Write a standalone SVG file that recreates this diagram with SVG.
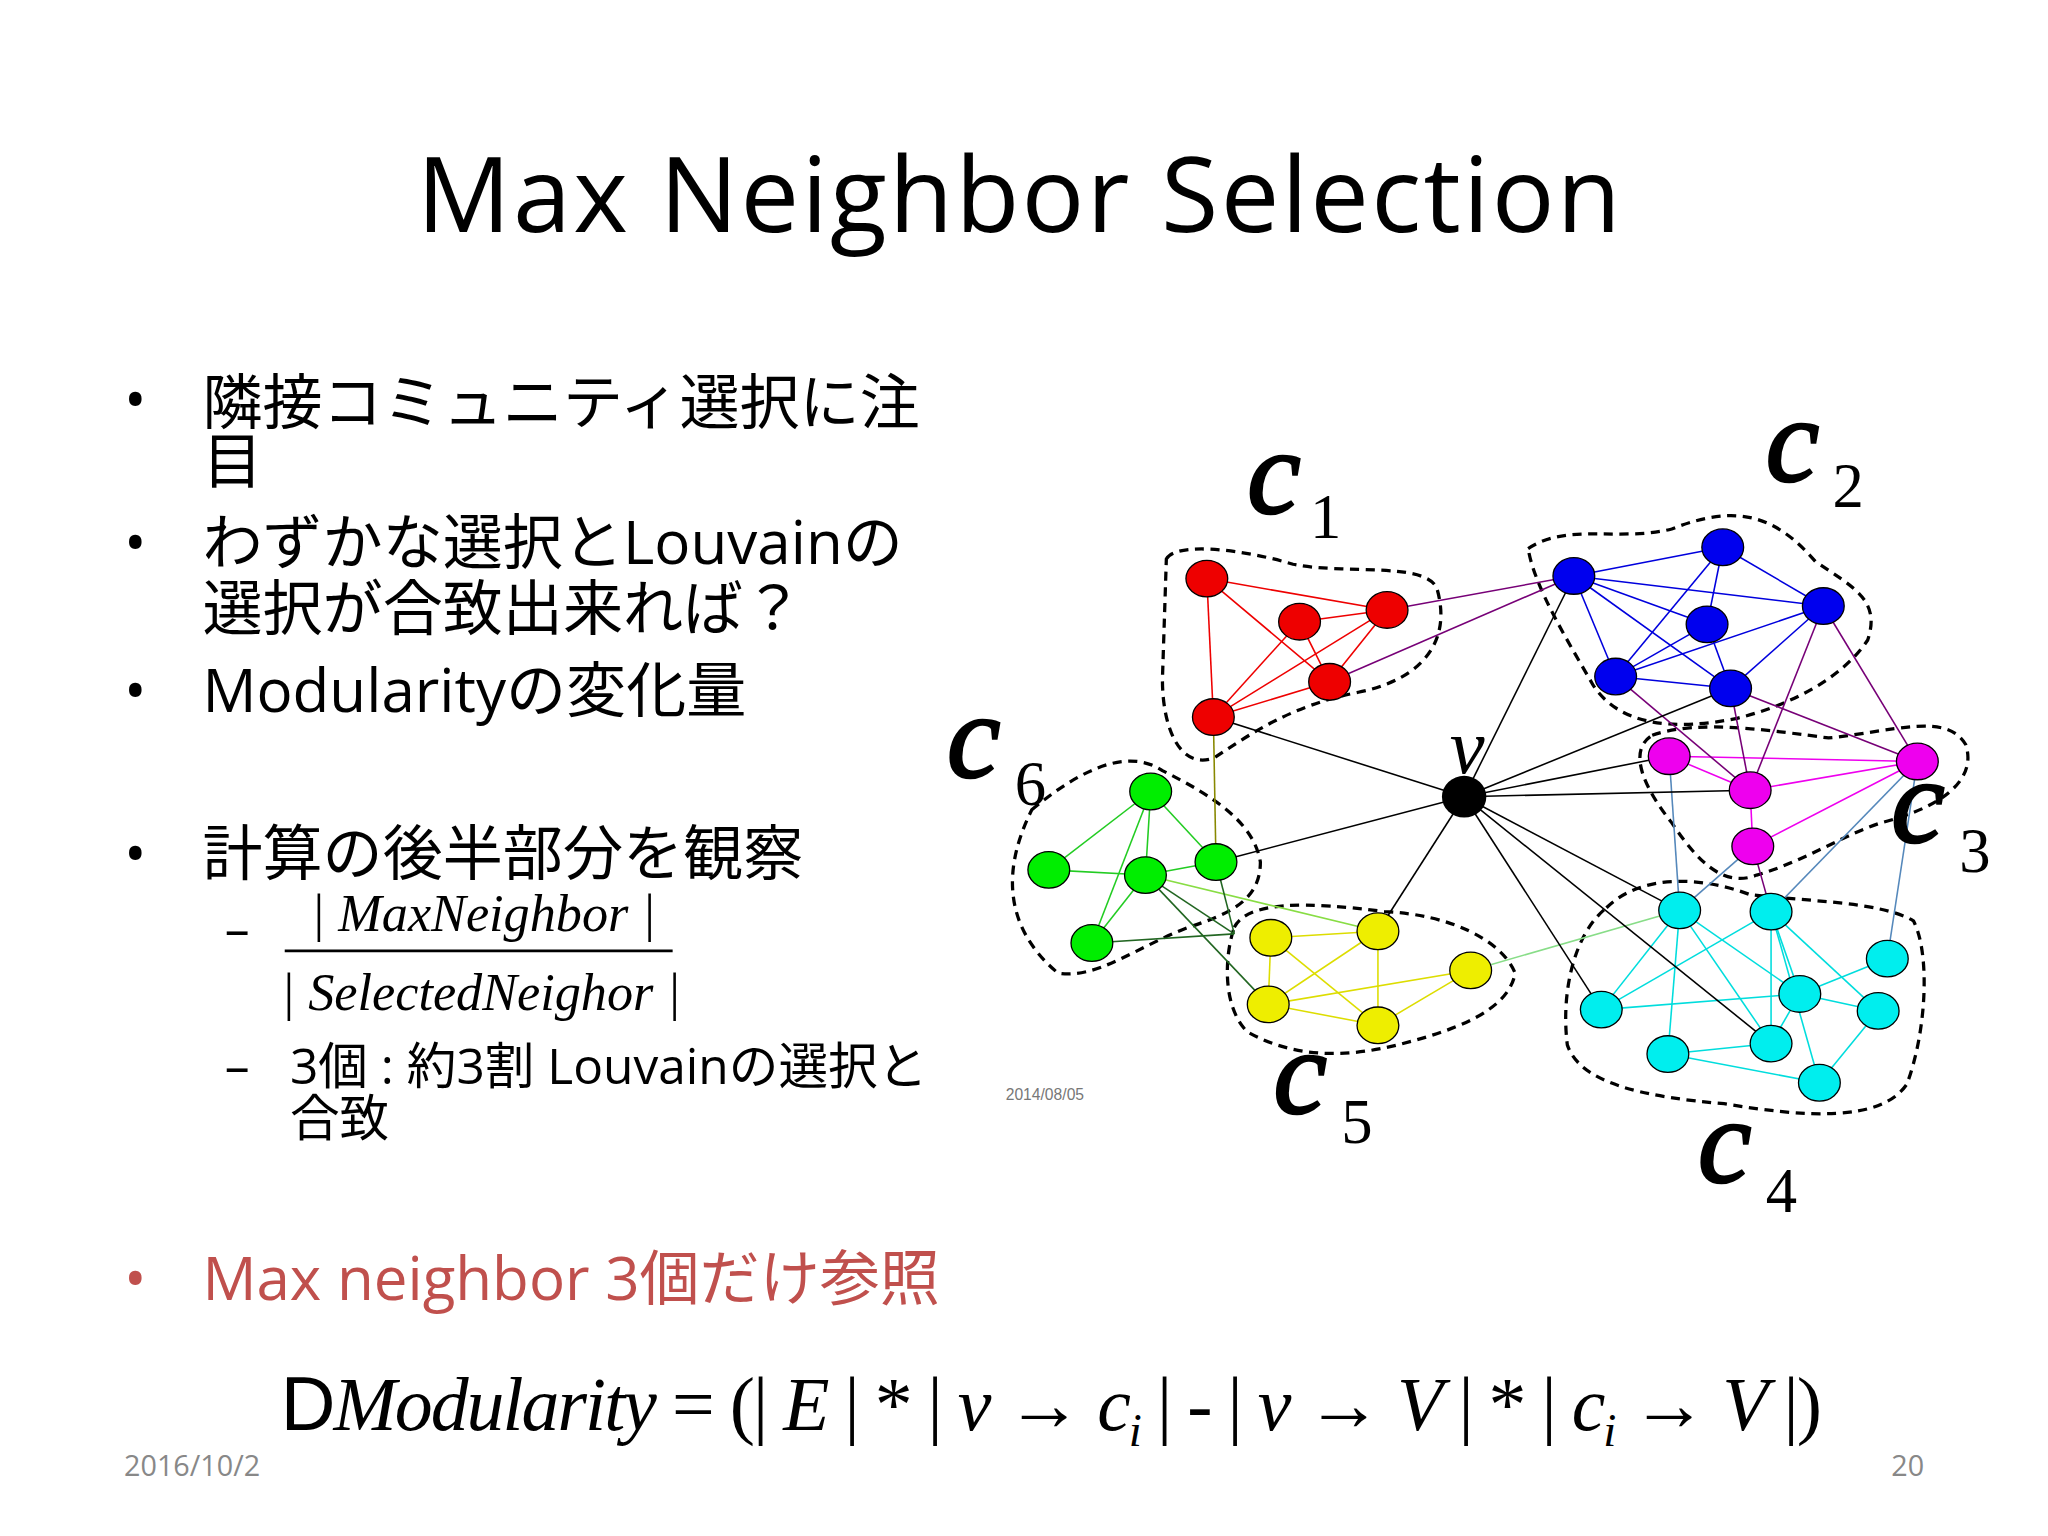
<svg xmlns="http://www.w3.org/2000/svg" width="2048" height="1536" viewBox="0 0 2048 1536">
<style>
.t{font-family:"Open Sans","Noto Sans CJK JP",sans-serif;fill:#000}
.m{font-family:"Liberation Serif","DejaVu Serif",serif;font-style:italic}
.n{stroke:#000;stroke-width:1}
.h{fill:none;stroke:#000;stroke-width:2.5;stroke-dasharray:7 5}
.lab{font-family:"Liberation Serif",serif;font-style:italic;font-size:92px;stroke:#000;stroke-width:2}
.sub{font-family:"Liberation Serif",serif;font-size:48px}
</style>
<rect width="2048" height="1536" fill="#fff"/>
<g transform="scale(1.3061)">
<text class="t" x="780" y="178" font-size="80" text-anchor="middle" textLength="922">Max Neighbor Selection</text>
<g id="bullets" class="t" font-size="46">
<text x="95" y="322">•</text>
<text x="155" y="325">隣接コミュニティ選択に注</text>
<text x="155" y="370">目</text>
<text x="95" y="432">•</text>
<text x="155" y="432">わずかな選択とLouvainの</text>
<text x="155" y="482">選択が合致出来れば？</text>
<text x="95" y="545">•</text>
<text x="155" y="545">Modularityの変化量</text>
<text x="95" y="670">•</text>
<text x="155" y="670">計算の後半部分を観察</text>
<text x="172" y="725" font-size="38">–</text>
<text x="172" y="830" font-size="38">–</text>
<text x="222" y="830" font-size="38">3個 : 約3割   Louvainの選択と</text>
<text x="222" y="870" font-size="38">合致</text>
</g>
<text class="m" x="238" y="713" font-size="40">| MaxNeighbor |</text>
<line x1="218" y1="728" x2="515" y2="728" stroke="#000" stroke-width="2"/>
<text class="m" x="215" y="773" font-size="40">| SelectedNeighor |</text>
<text x="770" y="842" font-family="Liberation Sans,sans-serif" font-size="12" fill="#777">2014/08/05</text>
<text x="95" y="995" font-size="46" fill="#c0504d" font-family="Open Sans,Noto Sans CJK JP,sans-serif">•</text>
<text x="155" y="995" font-size="46" fill="#c0504d" font-family="Open Sans,Noto Sans CJK JP,sans-serif">Max neighbor 3個だけ参照</text>
<text x="215" y="1095" font-size="58" font-family="Liberation Serif,serif" textLength="1180"><tspan font-family="Liberation Sans,sans-serif">D</tspan><tspan font-style="italic">Modularity</tspan> = (| <tspan font-style="italic">E</tspan> | * | <tspan font-style="italic">v</tspan> → <tspan font-style="italic">c</tspan><tspan font-style="italic" font-size="36" dy="12">i</tspan><tspan dy="-12"> | - | </tspan><tspan font-style="italic">v</tspan> → <tspan font-style="italic">V</tspan> | * | <tspan font-style="italic">c</tspan><tspan font-style="italic" font-size="36" dy="12">i</tspan><tspan dy="-12"> → </tspan><tspan font-style="italic">V</tspan> |)</text>
<text x="95" y="1130" font-size="22" fill="#888" font-family="Open Sans,sans-serif">2016/10/2</text>
<text x="1448" y="1130" font-size="22" fill="#888" font-family="Open Sans,sans-serif">20</text>

<g id="hulls">
<path class="h" d="M893,428 C900,415 950,420 990,432 C1030,440 1090,430 1100,450 C1112,490 1090,520 1040,530 C990,540 960,560 930,580 C905,590 890,560 890,520 Z"/>
<path class="h" d="M1170,420 C1200,400 1240,415 1280,405 C1330,385 1360,395 1390,430 C1420,450 1440,460 1430,490 C1410,520 1370,540 1330,550 C1280,560 1240,555 1220,525 C1200,490 1175,450 1170,420 Z"/>
<path class="h" d="M1265,563 C1300,550 1360,560 1400,565 C1450,560 1490,545 1505,570 C1515,600 1480,620 1440,630 C1410,640 1380,660 1345,670 C1320,680 1300,660 1280,630 C1260,605 1245,575 1265,563 Z"/>
<path class="h" d="M1230,695 C1255,670 1300,670 1340,685 C1380,690 1440,690 1465,705 C1478,730 1475,790 1460,830 C1440,860 1380,855 1320,845 C1260,840 1210,830 1200,800 C1195,760 1205,715 1230,695 Z"/>
<path class="h" d="M945,710 C955,690 1000,690 1060,698 C1110,700 1150,720 1160,745 C1155,775 1110,790 1070,800 C1030,810 990,810 955,790 C935,770 938,730 945,710 Z"/>
<path class="h" d="M790,620 C820,595 860,570 890,590 C930,610 960,630 965,660 C965,690 940,700 910,710 C870,725 840,750 810,745 C780,720 760,680 790,620 Z"/>
</g>

<g id="connectors" fill="none" stroke-width="1.2">
<g stroke="#e00">
<line x1="924" y1="443" x2="1062" y2="467"/><line x1="924" y1="443" x2="1018" y2="522"/><line x1="924" y1="443" x2="929" y2="549"/>
<line x1="995" y1="476" x2="1062" y2="467"/><line x1="995" y1="476" x2="1018" y2="522"/><line x1="995" y1="476" x2="929" y2="549"/>
<line x1="1062" y1="467" x2="1018" y2="522"/><line x1="1062" y1="467" x2="929" y2="549"/><line x1="1018" y1="522" x2="929" y2="549"/>
</g>
<g stroke="#00d">
<line x1="1205" y1="441" x2="1319" y2="419"/><line x1="1205" y1="441" x2="1307" y2="478"/><line x1="1205" y1="441" x2="1396" y2="464"/><line x1="1205" y1="441" x2="1237" y2="518"/><line x1="1205" y1="441" x2="1325" y2="527"/>
<line x1="1319" y1="419" x2="1307" y2="478"/><line x1="1319" y1="419" x2="1237" y2="518"/><line x1="1319" y1="419" x2="1396" y2="464"/>
<line x1="1307" y1="478" x2="1237" y2="518"/><line x1="1307" y1="478" x2="1325" y2="527"/><line x1="1396" y1="464" x2="1237" y2="518"/><line x1="1396" y1="464" x2="1325" y2="527"/><line x1="1237" y1="518" x2="1325" y2="527"/>
</g>
<g stroke="#e0e">
<line x1="1278" y1="579" x2="1340" y2="605"/><line x1="1278" y1="579" x2="1468" y2="583"/><line x1="1340" y1="605" x2="1342" y2="648"/><line x1="1340" y1="605" x2="1468" y2="583"/><line x1="1342" y1="648" x2="1468" y2="583"/>
</g>
<g stroke="#0dd">
<line x1="1286" y1="697" x2="1226" y2="773"/><line x1="1286" y1="697" x2="1356" y2="799"/><line x1="1286" y1="697" x2="1378" y2="761"/><line x1="1286" y1="697" x2="1277" y2="807"/>
<line x1="1356" y1="698" x2="1226" y2="773"/><line x1="1356" y1="698" x2="1378" y2="761"/><line x1="1356" y1="698" x2="1356" y2="799"/><line x1="1356" y1="698" x2="1438" y2="774"/><line x1="1356" y1="698" x2="1393" y2="829"/>
<line x1="1445" y1="734" x2="1378" y2="761"/><line x1="1226" y1="773" x2="1378" y2="761"/><line x1="1378" y1="761" x2="1438" y2="774"/><line x1="1378" y1="761" x2="1356" y2="799"/>
<line x1="1438" y1="774" x2="1393" y2="829"/><line x1="1356" y1="799" x2="1277" y2="807"/><line x1="1277" y1="807" x2="1393" y2="829"/>
</g>
<g stroke="#dd0">
<line x1="973" y1="718" x2="1055" y2="713"/><line x1="973" y1="718" x2="971" y2="769"/><line x1="973" y1="718" x2="1055" y2="785"/><line x1="1055" y1="713" x2="971" y2="769"/><line x1="1055" y1="713" x2="1055" y2="785"/>
<line x1="971" y1="769" x2="1126" y2="743"/><line x1="971" y1="769" x2="1055" y2="785"/><line x1="1055" y1="785" x2="1126" y2="743"/>
</g>
<g stroke="#2c2">
<line x1="881" y1="606" x2="803" y2="666"/><line x1="881" y1="606" x2="877" y2="670"/><line x1="881" y1="606" x2="931" y2="660"/><line x1="881" y1="606" x2="836" y2="722"/>
<line x1="803" y1="666" x2="877" y2="670"/><line x1="877" y1="670" x2="931" y2="660"/><line x1="877" y1="670" x2="836" y2="722"/>
<line x1="877" y1="670" x2="1055" y2="713" stroke="#8d4"/>
</g>
<g stroke="#262">
<line x1="931" y1="660" x2="945" y2="715"/><line x1="836" y1="722" x2="945" y2="715"/><line x1="877" y1="670" x2="971" y2="769"/><line x1="877" y1="670" x2="945" y2="715"/>
</g>
<g stroke="#707">
<line x1="1062" y1="467" x2="1205" y2="441"/><line x1="1018" y1="522" x2="1205" y2="441"/>
<line x1="1237" y1="518" x2="1340" y2="605"/><line x1="1325" y1="527" x2="1340" y2="605"/><line x1="1396" y1="464" x2="1340" y2="605"/>
<line x1="1396" y1="464" x2="1468" y2="583"/><line x1="1325" y1="527" x2="1468" y2="583"/><line x1="1342" y1="648" x2="1356" y2="698"/>
</g>
<line x1="929" y1="549" x2="931" y2="660" stroke="#880"/>
<g stroke="#58b">
<line x1="1278" y1="579" x2="1286" y2="697"/><line x1="1342" y1="648" x2="1286" y2="697"/><line x1="1468" y1="583" x2="1356" y2="698"/><line x1="1468" y1="583" x2="1445" y2="734"/>
</g>
<line x1="1126" y1="743" x2="1286" y2="697" stroke="#8d8"/>
<g stroke="#000">
<line x1="1121" y1="610" x2="929" y2="549"/><line x1="1121" y1="610" x2="1205" y2="441"/><line x1="1121" y1="610" x2="1325" y2="527"/>
<line x1="1121" y1="610" x2="1278" y2="579"/><line x1="1121" y1="610" x2="1340" y2="605"/><line x1="1121" y1="610" x2="931" y2="660"/>
<line x1="1121" y1="610" x2="1055" y2="713"/><line x1="1121" y1="610" x2="1226" y2="773"/><line x1="1121" y1="610" x2="1356" y2="799"/><line x1="1121" y1="610" x2="1286" y2="697"/>
</g>
</g>

<g id="c1" fill="#e00"><ellipse class="n" cx="924" cy="443" rx="16" ry="14"/><ellipse class="n" cx="995" cy="476" rx="16" ry="14"/><ellipse class="n" cx="1062" cy="467" rx="16" ry="14"/><ellipse class="n" cx="1018" cy="522" rx="16" ry="14"/><ellipse class="n" cx="929" cy="549" rx="16" ry="14"/></g>
<g id="c2" fill="#00e"><ellipse class="n" cx="1205" cy="441" rx="16" ry="14"/><ellipse class="n" cx="1319" cy="419" rx="16" ry="14"/><ellipse class="n" cx="1307" cy="478" rx="16" ry="14"/><ellipse class="n" cx="1396" cy="464" rx="16" ry="14"/><ellipse class="n" cx="1237" cy="518" rx="16" ry="14"/><ellipse class="n" cx="1325" cy="527" rx="16" ry="14"/></g>
<g id="c3" fill="#e0e"><ellipse class="n" cx="1278" cy="579" rx="16" ry="14"/><ellipse class="n" cx="1340" cy="605" rx="16" ry="14"/><ellipse class="n" cx="1342" cy="648" rx="16" ry="14"/><ellipse class="n" cx="1468" cy="583" rx="16" ry="14"/></g>
<g id="c4" fill="#0ee"><ellipse class="n" cx="1286" cy="697" rx="16" ry="14"/><ellipse class="n" cx="1356" cy="698" rx="16" ry="14"/><ellipse class="n" cx="1445" cy="734" rx="16" ry="14"/><ellipse class="n" cx="1378" cy="761" rx="16" ry="14"/><ellipse class="n" cx="1438" cy="774" rx="16" ry="14"/><ellipse class="n" cx="1226" cy="773" rx="16" ry="14"/><ellipse class="n" cx="1356" cy="799" rx="16" ry="14"/><ellipse class="n" cx="1277" cy="807" rx="16" ry="14"/><ellipse class="n" cx="1393" cy="829" rx="16" ry="14"/></g>
<g id="c5" fill="#ee0"><ellipse class="n" cx="973" cy="718" rx="16" ry="14"/><ellipse class="n" cx="1055" cy="713" rx="16" ry="14"/><ellipse class="n" cx="1126" cy="743" rx="16" ry="14"/><ellipse class="n" cx="971" cy="769" rx="16" ry="14"/><ellipse class="n" cx="1055" cy="785" rx="16" ry="14"/></g>
<g id="c6" fill="#0e0"><ellipse class="n" cx="881" cy="606" rx="16" ry="14"/><ellipse class="n" cx="803" cy="666" rx="16" ry="14"/><ellipse class="n" cx="877" cy="670" rx="16" ry="14"/><ellipse class="n" cx="931" cy="660" rx="16" ry="14"/><ellipse class="n" cx="836" cy="722" rx="16" ry="14"/></g>
<g id="v"><ellipse cx="1121" cy="610" rx="17" ry="16" fill="#000"/><text x="1110" y="592" font-family="Liberation Serif,serif" font-style="italic" font-size="60">v</text></g>

<g id="labels">
<text class="lab" x="955" y="393">c</text><text class="sub" x="1003" y="412">1</text>
<text class="lab" x="1352" y="368">c</text><text class="sub" x="1403" y="388">2</text>
<text class="lab" x="1448" y="645">c</text><text class="sub" x="1500" y="668">3</text>
<text class="lab" x="1300" y="905">c</text><text class="sub" x="1352" y="928">4</text>
<text class="lab" x="975" y="852">c</text><text class="sub" x="1027" y="875">5</text>
<text class="lab" x="725" y="595">c</text><text class="sub" x="777" y="616">6</text>
</g>
</g>
</svg>
